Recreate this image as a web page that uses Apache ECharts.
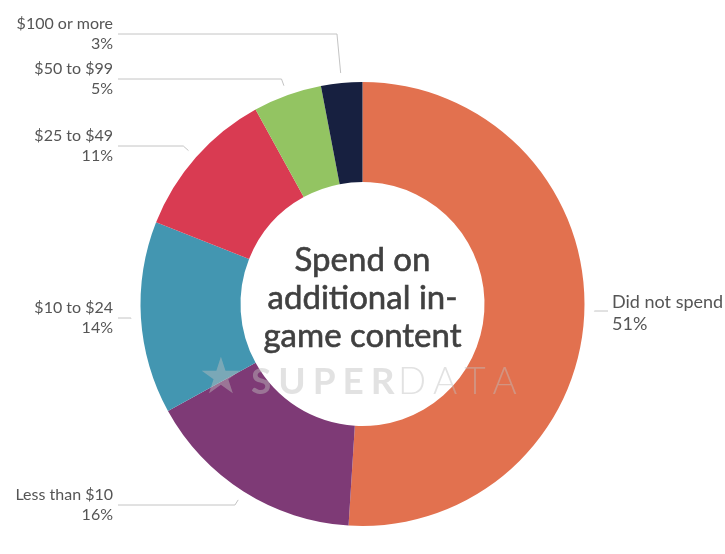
<!DOCTYPE html>
<html><head><meta charset="utf-8">
<script src="https://cdn.jsdelivr.net/npm/echarts@6/dist/echarts.min.js"></script>
<style>html,body{margin:0;padding:0;background:#fff}#c{width:725px;height:554px}</style>
</head><body><div id="c"></div>
<script>
const categories = ['Did not spend', 'Less than $10', '$10 to $24', '$25 to $49', '$50 to $99', '$100 or more'];
const shares = [51, 16, 14, 11, 5, 3];
const sliceColors = ['#E2714F', '#7E3A76', '#4396B1', '#D93B52', '#93C462', '#172040'];
const centerTitle = 'Spend on\nadditional in-\ngame content';
const watermarkParts = ['SUPER', 'DATA'];

// layout constants (label vertical positions, like the reference's distribution)
const LABEL_Y = [313, 505, 318, 146, 79, 34];
const CX = 362.5, CY = 304, R0 = 122, R1 = 222;

const chart = echarts.init(document.getElementById('c'), null, {renderer: 'canvas'});
const spaced = s => s.split('').join('\u2009\u200A');
const WM = 'rgba(190,190,190,0.45)';

chart.setOption({
  animation: false,
  backgroundColor: '#ffffff',
  series: [{
    type: 'pie',
    center: [CX, CY],
    radius: [R0, R1],
    startAngle: 90,
    clockwise: true,
    avoidLabelOverlap: false,
    silent: true,
    data: categories.map((c, i) => ({
      name: c, value: shares[i], itemStyle: {color: sliceColors[i]},
      label: i === 0 ? {fontSize: 18, lineHeight: 22} : undefined
    })),
    label: {
      show: true,
      position: 'outside',
      formatter: p => p.name + '\n' + p.value + '%',
      fontFamily: 'Lato',
      fontSize: 16,
      lineHeight: 19.5,
      color: '#555555'
    },
    labelLine: {
      show: true, length: 10, length2: 10, smooth: false,
      lineStyle: {color: '#c4c4c4', width: 1}
    },
    labelLayout: function (p) {
      const pts = p.labelLinePoints;
      const p0 = pts[0];
      let dx = p0[0] - CX, dy = p0[1] - CY;
      const L = Math.hypot(dx, dy); dx /= L; dy /= L;
      const ax = p0[0] + dx * 10, ay = p0[1] + dy * 10;
      const ly = LABEL_Y[p.dataIndex];
      const left = dx < 0;
      let t = Math.abs(dy) > 0.05 ? (ly - ay) / dy : 0;
      t = Math.max(0, Math.min(60, t));
      const bx = ax + dx * t;
      const lineY = left ? ly : ly - 2;
      const endX = left ? 118 : 608;
      return {
        x: left ? 113 : 612,
        y: ly,
        align: left ? 'right' : 'left',
        verticalAlign: 'middle',
        labelLinePoints: [[ax, ay], [bx, lineY], [endX, lineY]]
      };
    }
  }],
  graphic: [
    {
      type: 'text', x: CX, y: 298, z: 10,
      style: {
        text: centerTitle, align: 'center', verticalAlign: 'middle',
        fontFamily: 'Lato', fontWeight: 'normal', fontSize: 33, lineHeight: 38, fill: '#404040',
        stroke: '#404040', lineWidth: 0.6
      }
    },
    {
      type: 'text', x: 221, y: 380, z: 20,
      style: {
        text: '\u2605', align: 'center', verticalAlign: 'middle',
        fontFamily: 'DejaVu Sans', fontSize: 50, fill: WM
      }
    },
    {
      type: 'text', x: 251, y: 382, z: 20,
      style: {
        text: '{a|' + spaced(watermarkParts[0]) + '}\u2009\u200A{b|' + spaced(watermarkParts[1]) + '}',
        verticalAlign: 'middle', align: 'left', fill: WM,
        rich: {
          a: {fontFamily: 'Lato', fontWeight: 'bold', fontSize: 37, fill: WM},
          b: {fontFamily: 'Lato', fontWeight: 300, fontSize: 37, fill: WM}
        }
      }
    }
  ]
});
</script>
</body></html>
